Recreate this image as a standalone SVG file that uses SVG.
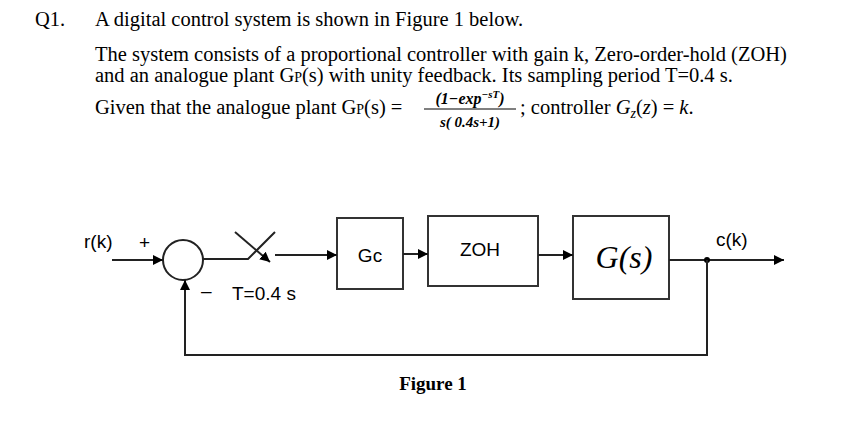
<svg xmlns="http://www.w3.org/2000/svg" width="861" height="421" viewBox="0 0 861 421">
<style>
.t{font-family:"Liberation Serif",serif;font-size:20.5px;fill:#000}
.s{font-family:"Liberation Sans",Arial,sans-serif;font-size:19px;fill:#000}
.b{fill:#fff;stroke:#333;stroke-width:2}
.l{fill:none;stroke:#222;stroke-width:2}
</style>
<defs><marker id="a" viewBox="0 0 10 10" refX="10" refY="5" markerWidth="5" markerHeight="5" orient="auto"><path d="M0,0L10,5L0,10z" fill="#000"/></marker></defs>
<text class="t" x="35" y="26">Q1.</text>
<text class="t" x="95" y="26">A digital control system is shown in Figure 1 below.</text>
<text class="t" x="95" y="61">The system consists of a proportional controller with gain k, Zero-order-hold (ZOH)</text>
<text class="t" x="95" y="82">and an analogue plant G<tspan font-size="14">P</tspan>(s) with unity feedback. Its sampling period T=0.4 s.</text>
<text class="t" x="95" y="114">Given that the analogue plant G<tspan font-size="14">P</tspan>(s) =</text>
<text x="470" y="104" text-anchor="middle" font-family="Liberation Serif,serif" font-size="16" font-style="italic" font-weight="bold">(1−exp<tspan font-size="11" dy="-6">−sT</tspan><tspan dy="6">)</tspan></text>
<line x1="424" y1="109" x2="516" y2="109" stroke="#000" stroke-width="1"/>
<text x="470" y="127" text-anchor="middle" font-family="Liberation Serif,serif" font-size="15" font-style="italic" font-weight="bold">s( 0.4s+1)</text>
<text class="t" x="520" y="114">; controller <tspan font-style="italic">G</tspan><tspan font-size="14" font-style="italic" dy="4">z</tspan><tspan dy="-4">(</tspan><tspan font-style="italic">z</tspan>) = <tspan font-style="italic">k</tspan>.</text>
<g id="sum"><circle class="l" cx="183" cy="260" r="20" fill="#fff"/></g>
<g id="gc"><rect class="b" x="337" y="218" width="66" height="71"/><text class="s" x="370" y="262" text-anchor="middle">Gc</text></g>
<g id="zoh"><rect class="b" x="428" y="216" width="110" height="70"/><text class="s" x="480" y="256" text-anchor="middle">ZOH</text></g>
<g id="gs"><rect class="b" x="573" y="216" width="96" height="83"/><text x="624" y="268" text-anchor="middle" font-family="Liberation Serif,serif" font-size="32" font-style="italic">G(s)</text></g>
<g id="labels">
<text class="s" x="84" y="248">r(k)</text>
<text class="s" x="139" y="249">+</text>
<text class="s" x="201" y="297">–</text>
<text class="s" x="232" y="300">T=0.4 s</text>
<text class="s" x="716" y="246">c(k)</text>
<text x="433" y="390" font-family="Liberation Serif,serif" font-size="19" font-weight="bold" text-anchor="middle">Figure 1</text>
</g>
<g id="connectors">
<line class="l" x1="112" y1="260" x2="163" y2="260" marker-end="url(#a)"/>
<polyline class="l" points="203,259 248,259 275,232" stroke-width="1.5"/>
<line class="l" x1="235" y1="232" x2="270" y2="262" stroke-width="1.5" marker-end="url(#a)"/>
<line class="l" x1="275" y1="255" x2="337" y2="255" marker-end="url(#a)"/>
<line class="l" x1="403" y1="254" x2="428" y2="254" marker-end="url(#a)"/>
<line class="l" x1="538" y1="255" x2="573" y2="255" marker-end="url(#a)"/>
<line class="l" x1="669" y1="260" x2="784" y2="260" marker-end="url(#a)"/>
<circle cx="707" cy="260" r="3" fill="#000"/>
<polyline class="l" points="707,260 707,355 185,355 185,280" marker-end="url(#a)"/>
</g>
</svg>
